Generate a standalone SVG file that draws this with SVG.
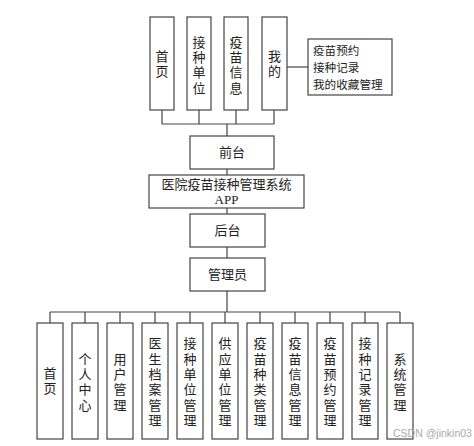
<svg xmlns="http://www.w3.org/2000/svg" width="474" height="446" viewBox="0 0 474 446">
<style>
.box{fill:#fff;stroke:#444;stroke-width:1.2}
.ln{stroke:#444;stroke-width:1.2;fill:none}
.v{font-family:"Noto Sans CJK SC","Liberation Sans",sans-serif;font-size:13px;fill:#222;text-anchor:middle;writing-mode:vertical-rl;letter-spacing:2.4px}
.s{font-family:"Liberation Serif","Noto Sans CJK SC",serif;font-size:13px;fill:#222;text-anchor:middle}
.l{font-family:"Noto Sans CJK SC","Liberation Sans",sans-serif;font-size:11.6px;fill:#222}
</style>
<rect width="474" height="446" fill="#fff"/>
<g id="connectors">
<path class="ln" d="M162 110V124M199 110V124M236 110V124M274 110V124M162 124H274"/>
<path class="ln" d="M287 67H308"/>
<path class="ln" d="M227 124V136M227 169V175M227 208V214M227 247V258" stroke-width="1.6"/>
<path class="ln" d="M227 291V312M50 312H400"/>
<path class="ln" d="M50 312V323M85 312V323M120 312V323M155 312V323M190 312V323M225 312V323M260 312V323M295 312V323M330 312V323M365 312V323M400 312V323"/>
</g>
<g id="n-shouye"><rect class="box" x="150" y="17" width="24" height="93"/><text class="v" x="162" y="65">首页</text></g>
<g id="n-jiezhongdanwei"><rect class="box" x="187" y="17" width="24" height="93"/><text class="v" x="199" y="66">接种单位</text></g>
<g id="n-yimiaoxinxi"><rect class="box" x="224" y="17" width="24" height="93"/><text class="v" x="236" y="66">疫苗信息</text></g>
<g id="n-wode"><rect class="box" x="262" y="17" width="25" height="93"/><text class="v" x="274.5" y="65">我的</text></g>
<g id="n-wode-detail"><rect class="box" x="308" y="39" width="84" height="56"/><text class="l"><tspan x="313" y="55">疫苗预约</tspan><tspan x="313" y="71.8">接种记录</tspan><tspan x="313" y="88.6">我的收藏管理</tspan></text></g>
<g id="n-qiantai"><rect class="box" x="190" y="136" width="84" height="33"/><text class="s" x="232" y="157">前台</text></g>
<g id="n-app"><rect class="box" x="149" y="175" width="155" height="33"/><text class="s"><tspan x="226.5" y="189">医院疫苗接种管理系统</tspan><tspan x="226.5" y="204">APP</tspan></text></g>
<g id="n-houtai"><rect class="box" x="190" y="214" width="75" height="33"/><text class="s" x="227.5" y="235">后台</text></g>
<g id="n-admin"><rect class="box" x="190" y="258" width="75" height="33"/><text class="s" x="227.5" y="279">管理员</text></g>
<g id="b1"><rect class="box" x="37" y="323" width="26" height="116"/><text class="v" x="50" y="382" letter-spacing="5">首页</text></g>
<g id="b2"><rect class="box" x="72" y="323" width="26" height="116"/><text class="v" x="85" y="383">个人中心</text></g>
<g id="b3"><rect class="box" x="107" y="323" width="26" height="116"/><text class="v" x="120" y="383">用户管理</text></g>
<g id="b4"><rect class="box" x="142" y="323" width="26" height="116"/><text class="v" x="155" y="383">医生档案管理</text></g>
<g id="b5"><rect class="box" x="177" y="323" width="26" height="116"/><text class="v" x="190" y="383">接种单位管理</text></g>
<g id="b6"><rect class="box" x="212" y="323" width="26" height="116"/><text class="v" x="225" y="383">供应单位管理</text></g>
<g id="b7"><rect class="box" x="247" y="323" width="26" height="116"/><text class="v" x="260" y="383">疫苗种类管理</text></g>
<g id="b8"><rect class="box" x="282" y="323" width="26" height="116"/><text class="v" x="295" y="383">疫苗信息管理</text></g>
<g id="b9"><rect class="box" x="317" y="323" width="26" height="116"/><text class="v" x="330" y="383">疫苗预约管理</text></g>
<g id="b10"><rect class="box" x="352" y="323" width="26" height="116"/><text class="v" x="365" y="383">接种记录管理</text></g>
<g id="b11"><rect class="box" x="387" y="323" width="26" height="116"/><text class="v" x="400" y="383">系统管理</text></g>
<text x="393" y="437" font-family="Liberation Sans,sans-serif" font-size="10.5" fill="#aaa">CSDN @jinkin03</text>
</svg>
